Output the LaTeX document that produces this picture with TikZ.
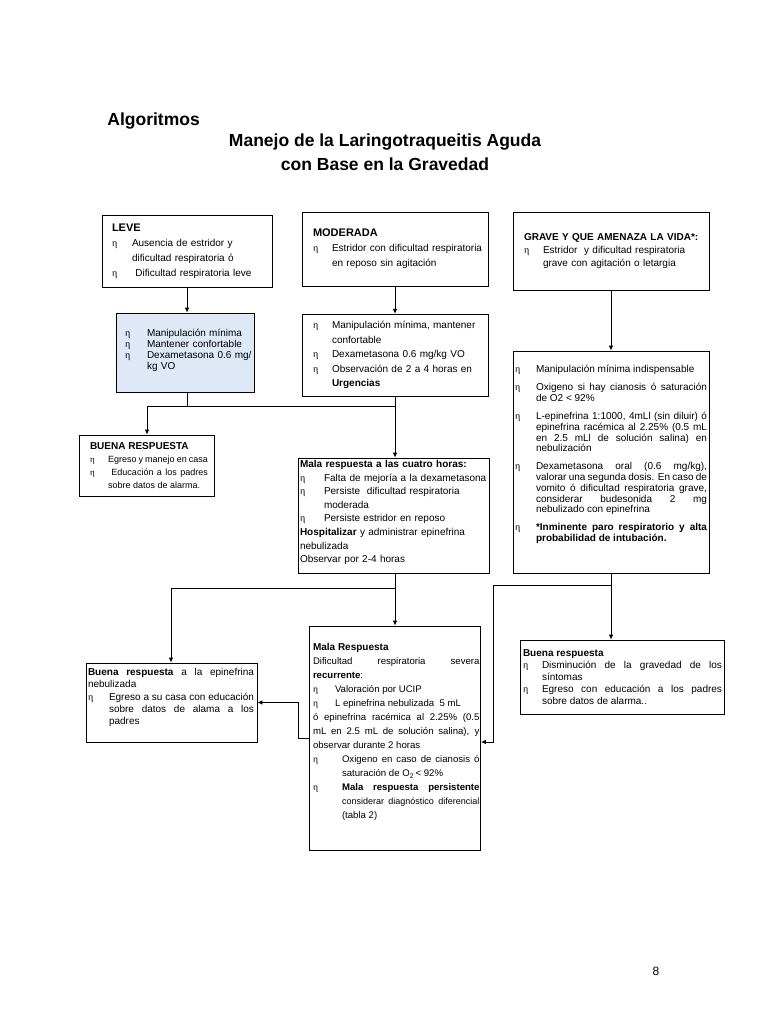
\documentclass[tikz,border=0pt]{standalone}
\usepackage{fontspec}
\setmainfont{Liberation Sans}
\newfontfamily\grk{Liberation Serif}
\usetikzlibrary{arrows.meta, positioning}

\definecolor{paleblue}{RGB}{222,232,246}
\setlength{\parindent}{0pt}
\hyphenpenalty=10000
\exhyphenpenalty=10000

\newlength{\itind}
\setlength{\itind}{20pt}
% bullet with hanging indent
\newcommand{\itm}[2][\itind]{\par\hangindent=#1\hangafter=1\noindent\makebox[#1][l]{\grk η}#2}
% end of box text, with some room below
\newcommand{\padb}[1]{\par\nointerlineskip\vbox to #1{}}

\begin{document}
\begin{tikzpicture}[x=1pt, y=-1pt, >={Latex[length=5pt,width=4.5pt]}, line width=0.8pt,
  box/.style={draw, line width=0.8pt, inner xsep=0pt, inner ysep=0pt, align=left},
  jbox/.style={box, align=justify},
  txt/.style={font=\fontsize{10}{#1}\selectfont},
  title/.style={font=\fontsize{17.5}{20}\selectfont\bfseries}]

	\useasboundingbox[fill=white] (0,0) rectangle (768,1024);

	% Titles
	\node[title, anchor=base west, inner sep=0pt] (alg) at (107,126) {Algoritmos};
	\node[title, anchor=base, inner sep=0pt] (tit1) at (385,147) {Manejo de la Laringotraqueitis Aguda};
	\node[title, anchor=base, inner sep=0pt] (tit2) at (385,171) {con Base en la Gravedad};

	% LEVE
	\node[box, txt=15, minimum height=72pt, text width=170pt] (leve) at (187,251) {\leftskip=10pt
		{\fontsize{11}{15}\selectfont\bfseries LEVE\par}
		\itm{Ausencia de estridor y\newline dificultad respiratoria ó}
		\itm{\ Dificultad respiratoria leve}\par};

	% MODERADA
	\node[box, txt=15, minimum height=74pt, text width=186pt] (moderada) at (395,249) {\leftskip=11pt
		{\fontsize{11}{15}\selectfont\bfseries MODERADA\par}
		\itm[19pt]{Estridor con dificultad respiratoria\newline en reposo sin agitación}\par};

	% GRAVE
	\node[box, txt=13, minimum height=78pt, text width=196pt] (grave) at (611,251) {\leftskip=11pt
		{\bfseries GRAVE Y QUE AMENAZA LA VIDA*:\par}
		\itm[19pt]{Estridor\ \ y dificultad respiratoria\newline grave con agitación o letargia}\par};

	% Manejo leve
	\node[box, fill=paleblue, txt=11, minimum height=79pt, text width=138pt] (levetx) at (185,352.5) {\leftskip=9pt
		\itm[22pt]{Manipulación mínima}
		\itm[22pt]{Mantener confortable}
		\itm[22pt]{Dexametasona 0.6 mg/\newline kg VO}\padb{8pt}};

	% Manejo moderada
	\node[box, txt=14.5, minimum height=77pt, text width=186pt] (modtx) at (395,355.5) {\leftskip=11pt
		\itm[19pt]{Manipulación mínima, mantener\newline confortable}
		\itm[19pt]{Dexametasona 0.6 mg/kg VO}
		\itm[19pt]{Observación de 2 a 4 horas en\newline \textbf{Urgencias}}\padb{8pt}};

	% Manejo grave
	\node[jbox, txt=10.7, minimum height=222pt, text width=196pt] (gravetx) at (611,462) {\leftskip=2pt \rightskip=2pt \parskip=7.5pt
		\itm[21pt]{Manipulación mínima indispensable}
		\itm[21pt]{Oxigeno si hay cianosis ó saturación\linebreak de O2 < 92\%}
		\itm[21pt]{L-epinefrina 1:1000, 4mLl (sin diluir) ó\linebreak epinefrina racémica al 2.25\% (0.5 mL\linebreak en 2.5 mLl de solución salina) en\linebreak nebulización}
		\itm[21pt]{Dexametasona oral (0.6 mg/kg),\linebreak valorar una segunda dosis. En caso de\linebreak vomito ó dificultad respiratoria grave,\linebreak considerar budesonida 2 mg\linebreak nebulizado con epinefrina}
		\itm[21pt]{\textbf{*Inminente paro respiratorio y alta\linebreak probabilidad de intubación.}}\padb{26pt}};

	% Buena respuesta (leve)
	\node[jbox, font=\fontsize{9}{12.7}\selectfont, minimum height=61pt, text width=135pt] (buena1) at (146.5,465.5) {\leftskip=11pt \rightskip=6pt
		{\fontsize{10}{12.7}\selectfont\bfseries BUENA RESPUESTA\par}
		\itm[18pt]{Egreso y manejo en casa}
		\itm[18pt]{\ Educación a los padres\linebreak sobre datos de alarma.}\par};

	% Mala respuesta a las cuatro horas
	\node[box, txt=13.6, minimum height=115pt, text width=191pt] (mala4h) at (394,515.5) {\leftskip=1.5pt
		{\bfseries Mala respuesta a las cuatro horas:\par}
		\itm[24pt]{Falta de mejoría a la dexametasona}
		\itm[24pt]{Persiste\ \ dificultad respiratoria\newline moderada}
		\itm[24pt]{Persiste estridor en reposo}
		\par\textbf{Hospitalizar} y administrar epinefrina\newline nebulizada\newline Observar por 2-4 horas\padb{6pt}};

	% Buena respuesta a la epinefrina
	\node[jbox, txt=12.2, minimum height=79pt, text width=171pt] (buena2) at (171.5,702.5) {\leftskip=2pt \rightskip=3pt
		\textbf{Buena respuesta} a la epinefrina\linebreak nebulizada
		\itm[21pt]{Egreso a su casa con educación\linebreak sobre datos de alama a los\linebreak padres}\padb{10pt}};

	% Mala respuesta recurrente
	\node[jbox, font=\fontsize{9.6}{14}\selectfont, minimum height=224pt, text width=171pt] (malarec) at (395,738) {\leftskip=3.5pt \rightskip=1pt
		{\fontsize{10}{14}\selectfont\bfseries Mala Respuesta\par}
		Dificultad respiratoria severa\linebreak \textbf{recurrente}:
		\itm[22pt]{Valoración por UCIP}
		\itm[22pt]{L epinefrina nebulizada\ \ 5 mL}
		\par ó epinefrina racémica al 2.25\% (0.5\linebreak mL en 2.5 mL de solución salina), y\linebreak observar durante 2 horas
		\itm[29pt]{Oxigeno en caso de cianosis ó\linebreak saturación de O\textsubscript{2}\,< 92\%}
		\itm[29pt]{\textbf{Mala respuesta persistente}\linebreak {\fontsize{9}{14}\selectfont considerar diagnóstico diferencial}\linebreak (tabla 2)}\padb{12pt}};

	% Buena respuesta (grave)
	\node[jbox, txt=12, minimum height=74pt, text width=204pt] (buena3) at (622,677) {\leftskip=3pt \rightskip=2pt
		{\bfseries Buena respuesta\par}
		\itm[19pt]{Disminución de la gravedad de los\linebreak síntomas}
		\itm[19pt]{Egreso con educación a los padres\linebreak sobre datos de alarma..}\par};

	% Page number
	\node[font=\fontsize{12}{14}\selectfont, anchor=base, inner sep=0pt] (pag) at (656,975) {8};

	% Connectors
	\draw[->] (leve.south) -- (leve.south |- levetx.north);
	\draw[->] (moderada.south) -- (moderada.south |- modtx.north);
	\draw[->] (grave.south) -- (grave.south |- gravetx.north);
	\coordinate (jl) at (147,406);
	\draw (leve.south |- levetx.south) -- (leve.south |- jl);
	\draw (jl) -- (modtx.south |- jl);
	\draw[->] (jl) -- (jl |- buena1.north);
	\draw[->] (modtx.south) -- (modtx.south |- mala4h.north);
	\coordinate (jm) at (171,588);
	\draw[->] (mala4h.south -| modtx.south) |- (jm) -- (jm |- buena2.north);
	\draw[->] (mala4h.south -| modtx.south) -- (modtx.south |- malarec.north);
	\coordinate (jg) at (493,585);
	\draw[->] (gravetx.south) |- (jg) |- ([yshift=-4pt]malarec.east);
	\draw[->] (gravetx.south) -- (gravetx.south |- buena3.north);
	\draw[->] (malarec.west) -- ++(-11,0) |- (buena2.east);

\end{tikzpicture}
\end{document}
